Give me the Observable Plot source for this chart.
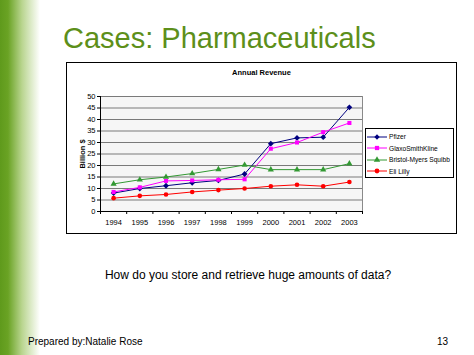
<!DOCTYPE html>
<html>
<head>
<meta charset="utf-8">
<script src="https://cdn.jsdelivr.net/npm/d3@7"></script>
<script src="https://cdn.jsdelivr.net/npm/@observablehq/plot@0.6"></script>
<style>
  html, body { margin: 0; padding: 0; }
  body {
    width: 474px; height: 355px; position: relative; overflow: hidden;
    background: linear-gradient(to right, #5f9a1c 0px, #6aa324 8px, #b9d58f 22px, #ffffff 40px);
    font-family: "Liberation Sans", Arial, sans-serif;
  }
  #title { position: absolute; left: 63px; top: 22px; font-size: 29px; color: #5d8f1a; white-space: nowrap; }
  #chart { position: absolute; left: 66px; top: 62px; width: 391px; height: 172px; box-sizing: border-box; border: 1px solid #000; background: #fff; }
  #chartTitle { position: absolute; left: 0; width: 100%; top: 5px; text-align: center; font-size: 7.5px; font-weight: bold; }
  #legend { position: absolute; left: 298px; top: 65px; width: 89px; height: 50px; box-sizing: border-box; border: 1px solid #000; background: #fff; padding-top: 2px; overflow: hidden; }
  .li { height: 11.5px; display: flex; align-items: center; font-size: 6.6px; white-space: nowrap; }
  .li svg { margin-left: 1px; margin-right: 2px; }
  #question { position: absolute; left: 0; width: 474px; top: 268px; text-align: center; font-size: 12px; padding-left: 22px; box-sizing: border-box; }
  #footer { position: absolute; left: 28px; top: 336px; font-size: 10px; }
  #page { position: absolute; left: 437px; top: 336px; font-size: 10px; }
  #chart svg text { font-family: "Liberation Sans", Arial, sans-serif; }
  g[aria-label="y-axis label"] text { font-weight: bold; }
</style>
</head>
<body>
<div id="title">Cases: Pharmaceuticals</div>
<div id="chart">
  <div id="plot"></div>
  <div id="chartTitle">Annual Revenue</div>
  <div id="legend"></div>
</div>
<div id="question">How do you store and retrieve huge amounts of data?</div>
<div id="footer">Prepared by:Natalie Rose</div>
<div id="page">13</div>
<script>
// ---- data ----
const years = [1994, 1995, 1996, 1997, 1998, 1999, 2000, 2001, 2002, 2003];
const companies = ["Pfizer", "GlaxoSmithKline", "Bristol-Myers Squibb", "Eli Lilly"];
const pfizer = [8.0, 10.0, 11.2, 12.5, 13.5, 16.3, 29.5, 32.0, 32.3, 45.3];
const gsk    = [8.5, 10.5, 13.3, 13.5, 13.8, 14.0, 27.3, 30.0, 34.5, 38.5];
const bms    = [12.0, 13.8, 15.0, 16.5, 18.3, 20.2, 18.2, 18.2, 18.2, 20.8];
const lilly  = [5.8, 6.8, 7.4, 8.5, 9.3, 10.0, 11.0, 11.6, 11.0, 12.8];
const yTicks = [0, 5, 10, 15, 20, 25, 30, 35, 40, 45, 50];
const yLabel = "Billion $";

const seriesValues = [pfizer, gsk, bms, lilly];
const colors = ["#000080", "#ff00ff", "#339933", "#ff0000"];
const symbols = ["diamond2", "square", "triangle", "circle"];

const rows = [];
companies.forEach((c, i) => years.forEach((y, j) => rows.push({company: c, year: y, value: seriesValues[i][j]})));
const boundaries = [...years.map(y => y - 0.5), years[years.length - 1] + 0.5];

const marks = [
  Plot.frame({fill: "#f6f6f6", stroke: "#8a8a8a"}),
  Plot.ruleY(yTicks.filter(t => t > 0), {stroke: "#7a7a7a", strokeWidth: 1.2}),
  Plot.axisY({ticks: yTicks, tickSize: 3, tickPadding: 2, fontSize: 7.5, label: yLabel, labelAnchor: "center", labelOffset: 21, labelArrow: "none"}),
  Plot.axisX({ticks: years, tickFormat: "d", tickSize: 0, tickPadding: 8, fontSize: 7.5, label: null}),
  Plot.axisX({ticks: boundaries, tickFormat: () => "", tickSize: 3, label: null}),
  Plot.frame({anchor: "left", stroke: "#000"}),
  Plot.frame({anchor: "bottom", stroke: "#000"})
];
companies.forEach((c, i) => {
  const data = rows.filter(r => r.company === c);
  marks.push(Plot.line(data, {x: "year", y: "value", stroke: colors[i], strokeWidth: 1}));
  marks.push(Plot.dot(data, {x: "year", y: "value", fill: colors[i], stroke: "none", symbol: () => symbols[i], r: i === 0 ? 2.6 : 2.3}));
});

const chart = Plot.plot({
  width: 389, height: 170,
  marginLeft: 33, marginRight: 94, marginTop: 33, marginBottom: 22,
  style: {background: "transparent", fontSize: "7.5px", color: "#000"},
  x: {type: "linear", domain: [boundaries[0], boundaries[boundaries.length - 1]]},
  y: {domain: [0, 50]},
  symbol: {type: "identity"},
  marks
});
document.getElementById("plot").appendChild(chart);

// ---- legend ----
const legend = document.getElementById("legend");
companies.forEach((c, i) => {
  const row = document.createElement("div");
  row.className = "li";
  const sw = d3.create("svg").attr("width", 20).attr("height", 8);
  sw.append("line").attr("x1", 0).attr("x2", 20).attr("y1", 4).attr("y2", 4).attr("stroke", colors[i]).attr("stroke-width", 1);
  const symMap = {diamond2: d3.symbolDiamond2, square: d3.symbolSquare, triangle: d3.symbolTriangle, circle: d3.symbolCircle};
  sw.append("path").attr("transform", "translate(10,4)").attr("d", d3.symbol(symMap[symbols[i]], 18)()).attr("fill", colors[i]);
  row.appendChild(sw.node());
  const t = document.createElement("span");
  t.textContent = c;
  row.appendChild(t);
  legend.appendChild(row);
});
</script>
</body>
</html>
